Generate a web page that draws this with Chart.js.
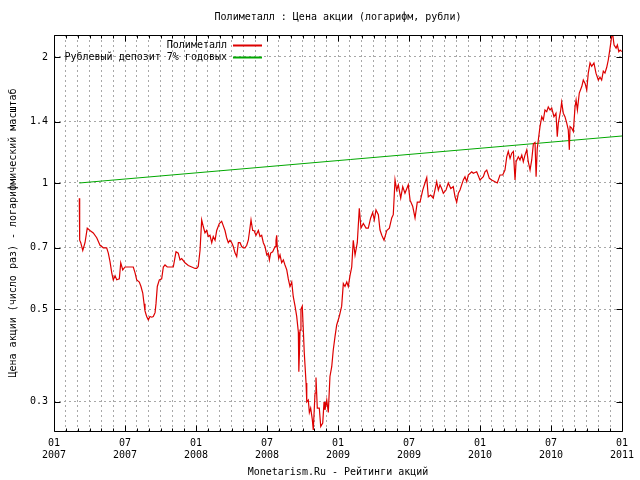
<!DOCTYPE html>
<html>
<head>
<meta charset="utf-8">
<script src="https://cdn.jsdelivr.net/npm/chart.js@4"></script>
<style>
    html, body { margin: 0; padding: 0; background: #fff; }
    canvas { display: block; }
</style>
</head>
<body>
<canvas id="chart" width="640" height="480"></canvas>
<script>
const FONT = "'DejaVu Sans Mono', monospace";

// [months since Jan 2007, share price relative to the start]
const pricePoints = [
    [2.14, 0.92], [2.17, 0.73], [2.26, 0.72], [2.43, 0.69], [2.62, 0.72], [2.81, 0.78], [3.04, 0.77],
    [3.32, 0.76], [3.61, 0.74], [3.89, 0.71], [4.17, 0.70], [4.45, 0.70], [4.59, 0.68], [4.73, 0.65],
    [4.88, 0.61], [5.01, 0.587], [5.16, 0.60], [5.30, 0.587], [5.52, 0.59], [5.64, 0.645], [5.81, 0.62],
    [6.00, 0.63], [6.28, 0.63], [6.57, 0.63], [6.70, 0.63], [6.85, 0.61], [6.99, 0.587], [7.21, 0.58],
    [7.35, 0.566], [7.50, 0.546], [7.61, 0.515], [7.69, 0.495], [7.83, 0.48], [7.97, 0.471], [8.11, 0.48],
    [8.26, 0.478], [8.39, 0.48], [8.54, 0.49], [8.62, 0.515], [8.73, 0.566], [8.90, 0.587], [9.10, 0.59],
    [9.24, 0.63], [9.38, 0.637], [9.57, 0.63], [9.80, 0.63], [10.08, 0.63], [10.31, 0.685], [10.50, 0.68],
    [10.65, 0.655], [10.79, 0.66], [11.07, 0.645], [11.35, 0.635], [11.64, 0.63], [11.92, 0.625],
    [12.06, 0.625], [12.19, 0.632], [12.34, 0.69], [12.48, 0.816], [12.62, 0.786], [12.76, 0.76],
    [12.90, 0.77], [13.04, 0.745], [13.18, 0.75], [13.33, 0.72], [13.46, 0.745], [13.61, 0.73],
    [13.75, 0.77], [13.97, 0.80], [14.17, 0.81], [14.31, 0.79], [14.45, 0.77], [14.59, 0.74], [14.73, 0.72],
    [14.87, 0.73], [15.02, 0.72], [15.15, 0.705], [15.30, 0.68], [15.44, 0.667], [15.58, 0.72], [15.72, 0.72],
    [15.86, 0.705], [16.00, 0.70], [16.14, 0.70], [16.29, 0.71], [16.42, 0.73], [16.56, 0.78], [16.65, 0.816],
    [16.79, 0.77], [16.90, 0.77], [17.07, 0.75], [17.27, 0.77], [17.41, 0.745], [17.55, 0.75], [17.69, 0.72],
    [17.83, 0.705], [17.98, 0.673], [18.11, 0.68], [18.20, 0.655], [18.31, 0.68], [18.48, 0.685],
    [18.68, 0.705], [18.76, 0.73], [18.82, 0.75], [18.87, 0.70], [18.99, 0.66], [19.10, 0.673],
    [19.24, 0.645], [19.38, 0.655], [19.52, 0.637], [19.67, 0.62], [19.80, 0.59], [19.94, 0.566],
    [20.09, 0.58], [20.22, 0.535], [20.37, 0.508], [20.51, 0.48], [20.65, 0.44], [20.69, 0.354],
    [20.75, 0.40], [20.79, 0.445], [20.87, 0.50], [20.98, 0.508], [21.07, 0.445], [21.15, 0.393],
    [21.30, 0.333], [21.36, 0.30], [21.49, 0.303], [21.58, 0.283], [21.69, 0.29], [21.83, 0.272],
    [21.91, 0.257], [22.06, 0.315], [22.14, 0.343], [22.25, 0.29], [22.42, 0.29], [22.54, 0.262],
    [22.71, 0.267], [22.82, 0.30], [22.90, 0.287], [23.05, 0.303], [23.18, 0.283], [23.32, 0.345],
    [23.47, 0.364], [23.60, 0.399], [23.75, 0.43], [23.89, 0.458], [24.11, 0.48], [24.31, 0.508],
    [24.45, 0.575], [24.59, 0.566], [24.74, 0.58], [24.87, 0.566], [25.01, 0.60], [25.16, 0.63],
    [25.29, 0.73], [25.44, 0.673], [25.63, 0.72], [25.80, 0.87], [25.94, 0.78], [26.14, 0.80],
    [26.37, 0.78], [26.56, 0.78], [26.76, 0.825], [26.93, 0.85], [27.07, 0.816], [27.21, 0.862],
    [27.41, 0.84], [27.55, 0.772], [27.70, 0.75], [27.89, 0.73], [28.12, 0.77], [28.34, 0.78],
    [28.54, 0.825], [28.67, 0.84], [28.82, 1.017], [28.96, 0.962], [29.10, 0.989], [29.30, 0.92],
    [29.47, 0.98], [29.66, 0.945], [29.94, 0.99], [30.09, 0.91], [30.31, 0.88], [30.51, 0.825],
    [30.70, 0.90], [30.93, 0.90], [31.16, 0.962], [31.35, 1.0], [31.50, 1.03], [31.63, 0.927],
    [31.83, 0.936], [32.05, 0.92], [32.34, 1.007], [32.48, 0.962], [32.62, 0.99], [32.76, 0.97],
    [32.90, 0.945], [33.13, 0.962], [33.32, 1.0], [33.53, 0.97], [33.74, 0.98], [33.89, 0.927],
    [34.03, 0.90], [34.17, 0.945], [34.31, 0.962], [34.59, 1.017], [34.73, 1.035], [34.88, 1.007],
    [35.01, 1.045], [35.30, 1.064], [35.43, 1.055], [35.72, 1.064], [36.00, 1.017], [36.28, 1.035],
    [36.42, 1.064], [36.57, 1.074], [36.79, 1.026], [36.99, 1.017], [37.27, 1.007], [37.46, 1.0],
    [37.69, 1.045], [37.92, 1.045], [38.11, 1.074], [38.26, 1.155], [38.39, 1.19], [38.54, 1.145],
    [38.68, 1.178], [38.82, 1.19], [38.96, 1.017], [39.05, 1.124], [39.24, 1.155], [39.38, 1.135],
    [39.53, 1.166], [39.66, 1.124], [39.80, 1.166], [39.95, 1.20], [40.08, 1.124], [40.23, 1.074],
    [40.37, 1.135], [40.51, 1.24], [40.65, 1.25], [40.74, 1.035], [40.84, 1.21], [40.93, 1.267],
    [41.07, 1.364], [41.22, 1.44], [41.35, 1.414], [41.49, 1.494], [41.64, 1.48], [41.77, 1.52],
    [41.92, 1.494], [42.06, 1.51], [42.25, 1.44], [42.42, 1.468], [42.53, 1.29], [42.62, 1.39],
    [42.82, 1.494], [42.90, 1.56], [43.04, 1.468], [43.18, 1.44], [43.33, 1.39], [43.46, 1.339],
    [43.55, 1.20], [43.61, 1.364], [43.75, 1.352], [43.89, 1.327], [44.03, 1.52], [44.12, 1.579],
    [44.23, 1.494], [44.39, 1.64], [44.60, 1.70], [44.73, 1.762], [44.88, 1.73], [45.02, 1.668],
    [45.15, 1.83], [45.30, 1.935], [45.44, 1.90], [45.63, 1.935], [45.80, 1.83], [46.00, 1.762],
    [46.14, 1.79], [46.28, 1.762], [46.42, 1.85], [46.56, 1.83], [46.71, 1.89], [46.84, 1.967],
    [46.99, 2.1], [47.13, 2.24], [47.22, 2.26], [47.33, 2.136], [47.50, 2.10], [47.61, 2.136],
    [47.73, 2.06], [47.84, 2.078], [47.98, 2.06]
];

// Deposit at 7% a year, from the first price date to the end of the axis
const depositPoints = [[2.14, 1.0], [48, 1.295]];

const seriesNames = ['Полиметалл', 'Рублевый депозит 7% годовых'];
const seriesColors = ['#dd0000', '#00a800'];

const yTickValues = [0.3, 0.5, 0.7, 1, 1.4, 2];
const xMajorLabels = [
    ['01', '2007'], ['07', '2007'], ['01', '2008'], ['07', '2008'], ['01', '2009'],
    ['07', '2009'], ['01', '2010'], ['07', '2010'], ['01', '2011']
];
const monthCount = 48;

// Frame, inward ticks and legend in gnuplot style
const gnuplotFrame = {
    id: 'gnuplotFrame',
    afterDraw(chart) {
        const { ctx, chartArea: a, scales: { x, y } } = chart;
        const left = Math.round(a.left) + 0.5;
        const right = Math.round(a.right) + 0.5;
        const top = Math.round(a.top) + 0.5;
        const bottom = Math.round(a.bottom) + 0.5;

        ctx.save();
        ctx.setLineDash([]);
        ctx.strokeStyle = '#000';
        ctx.lineWidth = 1;
        ctx.beginPath();
        ctx.rect(left, top, right - left, bottom - top);

        for (let m = 0; m <= monthCount; m++) {
            const px = Math.round(x.getPixelForValue(m)) + 0.5;
            const len = m % 6 === 0 ? 6 : 3;
            ctx.moveTo(px, bottom);
            ctx.lineTo(px, bottom - len);
            ctx.moveTo(px, top);
            ctx.lineTo(px, top + len);
        }
        yTickValues.forEach(v => {
            const py = Math.round(y.getPixelForValue(v)) + 0.5;
            ctx.moveTo(left, py);
            ctx.lineTo(left + 6, py);
            ctx.moveTo(right, py);
            ctx.lineTo(right - 6, py);
        });
        ctx.stroke();

        // Legend: text right-aligned, sample line to its right
        ctx.font = '10px ' + FONT;
        ctx.textAlign = 'right';
        ctx.textBaseline = 'middle';
        seriesNames.forEach((name, i) => {
            const rowY = Math.round(a.top) + 10 + i * 12;
            ctx.fillStyle = '#000';
            ctx.fillText(name, 227, rowY);
            ctx.fillStyle = seriesColors[i];
            ctx.fillRect(233, rowY - 0.5, 29, 2);
        });
        ctx.restore();
    }
};

const tickFont = { family: FONT, size: 10, lineHeight: 1.2 };

new Chart(document.getElementById('chart'), {
    type: 'line',
    data: {
        datasets: [
            {
                label: seriesNames[0],
                data: pricePoints.map(p => ({ x: p[0], y: p[1] })),
                borderColor: seriesColors[0],
                borderWidth: 1.2,
                pointRadius: 0,
                tension: 0,
                fill: false
            },
            {
                label: seriesNames[1],
                data: depositPoints.map(p => ({ x: p[0], y: p[1] })),
                borderColor: seriesColors[1],
                borderWidth: 1,
                pointRadius: 0,
                tension: 0,
                fill: false
            }
        ]
    },
    options: {
        responsive: false,
        animation: false,
        devicePixelRatio: 1,
        layout: { padding: { left: 0, right: 18, top: 0, bottom: 0 } },
        plugins: {
            legend: { display: false },
            tooltip: { enabled: false },
            title: {
                display: true,
                fullSize: false,
                text: 'Полиметалл : Цена акции (логарифм, рубли)',
                color: '#000',
                font: { family: FONT, size: 10, weight: 'normal', lineHeight: 1.2 },
                padding: { top: 11, bottom: 12 }
            }
        },
        scales: {
            x: {
                type: 'linear',
                min: 0,
                max: monthCount,
                afterBuildTicks: scale => {
                    const ticks = [];
                    for (let m = 0; m <= monthCount; m++) ticks.push({ value: m });
                    scale.ticks = ticks;
                },
                afterFit: scale => {
                    scale.height = 49;
                    scale.paddingLeft = 0;
                    scale.paddingRight = 0;
                },
                ticks: {
                    autoSkip: false,
                    maxRotation: 0,
                    padding: 6,
                    color: '#000',
                    font: tickFont,
                    callback: value => (value % 6 === 0 ? xMajorLabels[value / 6] : '')
                },
                grid: { color: '#a8a8a8', lineWidth: 1, drawTicks: false },
                border: { display: false, dash: [2, 3] },
                title: {
                    display: true,
                    text: 'Monetarism.Ru - Рейтинги акций',
                    color: '#000',
                    font: tickFont,
                    padding: { top: 0, bottom: 2 }
                }
            },
            y: {
                type: 'logarithmic',
                min: 0.2556,
                max: 2.257,
                afterBuildTicks: scale => {
                    scale.ticks = yTickValues.map(v => ({ value: v }));
                },
                afterFit: scale => {
                    scale.width = 54;
                    scale.paddingTop = 0;
                    scale.paddingBottom = 0;
                },
                ticks: {
                    padding: 6,
                    color: '#000',
                    font: tickFont,
                    callback: value => String(value)
                },
                grid: { color: '#a8a8a8', lineWidth: 1, drawTicks: false },
                border: { display: false, dash: [2, 3] },
                title: {
                    display: true,
                    text: 'Цена акции (число раз) - логарифмический масштаб',
                    color: '#000',
                    font: tickFont,
                    padding: { top: 7, bottom: 0 }
                }
            }
        }
    },
    plugins: [gnuplotFrame]
});
</script>
</body>
</html>
